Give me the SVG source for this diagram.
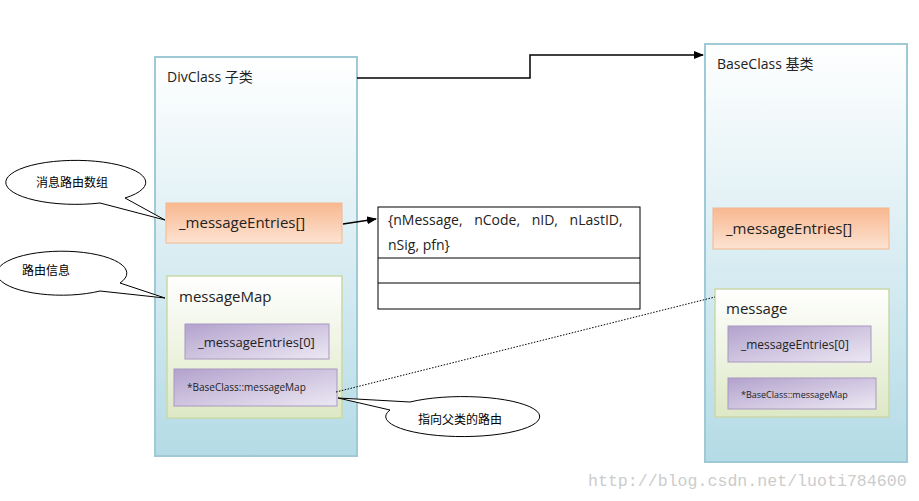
<svg xmlns="http://www.w3.org/2000/svg" width="919" height="501" viewBox="0 0 919 501">
<style>
.t{font-family:"Open Sans","Liberation Sans","Noto Sans CJK SC",sans-serif;fill:#222}
.c{font-family:"Noto Sans CJK SC",sans-serif;font-size:12px;fill:#000}
.cls{fill:url(#gb);stroke:#9fcad5;stroke-width:2}
.or{fill:url(#go);stroke:#f2b88e}
.gr{fill:url(#gg);stroke:#c9d9a8;stroke-width:1.5}
.pu{fill:url(#gp);stroke:#a898c0}
.ell{fill:#fff;stroke:#000;stroke-width:1}
</style>
<defs>
<linearGradient id="gb" x1="0" y1="0" x2="0" y2="1"><stop offset="0" stop-color="#fff"/><stop offset="1" stop-color="#b4dbe6"/></linearGradient>
<linearGradient id="go" x1="0" y1="0" x2="0" y2="1"><stop offset="0" stop-color="#f8b890"/><stop offset="1" stop-color="#fde3d2"/></linearGradient>
<linearGradient id="gg" x1="0" y1="0" x2="0" y2="1"><stop offset="0" stop-color="#fff"/><stop offset="1" stop-color="#dde8c5"/></linearGradient>
<linearGradient id="gp" x1="0" y1="0" x2="1" y2="1"><stop offset="0" stop-color="#b3a2cd"/><stop offset="1" stop-color="#ece8f3"/></linearGradient>
<marker id="ar" markerWidth="10" markerHeight="8" refX="9" refY="4" orient="auto" markerUnits="userSpaceOnUse"><path d="M0,0L10,4L0,8z" fill="#000"/></marker>
</defs>
<g id="divclass">
<rect class="cls" x="155" y="57" width="202" height="399"/>
<text class="t" x="167" y="82" font-size="14">DivClass 子类</text>
</g>
<g id="baseclass">
<rect class="cls" x="705" y="44" width="202" height="418"/>
<text class="t" x="717" y="69" font-size="14">BaseClass 基类</text>
</g>
<g id="div-entries"><rect class="or" x="166" y="203" width="176" height="40"/><text class="t" x="179" y="228" font-size="15">_messageEntries[]</text></g>
<g id="base-entries"><rect class="or" x="713" y="208" width="176" height="41"/><text class="t" x="726" y="234" font-size="15">_messageEntries[]</text></g>
<g id="div-map"><rect class="gr" x="167" y="276" width="175" height="142"/><text class="t" x="179" y="302" font-size="15">messageMap</text>
<rect class="pu" x="185" y="324" width="144" height="35"/><text class="t" x="198" y="347" font-size="13">_messageEntries[0]</text>
<rect class="pu" x="174" y="369" width="163" height="37"/><text class="t" x="187" y="391" font-size="10">*BaseClass::messageMap</text></g>
<g id="base-map"><rect class="gr" x="715" y="289" width="174" height="128"/><text class="t" x="726" y="314" font-size="15">message</text>
<rect class="pu" x="728" y="326" width="143" height="36"/><text class="t" x="741" y="349" font-size="12">_messageEntries[0]</text>
<rect class="pu" x="728" y="378" width="148" height="31"/><text class="t" x="741" y="398" font-size="9">*BaseClass::messageMap</text></g>
<g id="table">
<rect x="378" y="207" width="262" height="102" fill="#fff" stroke="#000"/>
<line x1="378" y1="258" x2="640" y2="258" stroke="#000"/><line x1="378" y1="283" x2="640" y2="283" stroke="#000"/>
<text class="t" x="388" y="225" font-size="14" word-spacing="8">{nMessage, nCode, nID, nLastID,</text>
<text class="t" x="388" y="250" font-size="14">nSig, pfn}</text>
</g>
<g id="callouts">
<path class="ell" d="M125,198 L165,220 L100,203 A70,22 0 1 1 125,198 Z"/>
<path class="ell" d="M120,283 L165,298 L100,291 A65,22 0 1 1 120,283 Z"/>
<path class="ell" d="M390,410 L338,398 L410,402 A77,20 0 1 1 390,410 Z"/>
<text class="c" x="36" y="187">消息路由数组</text>
<text class="c" x="22" y="275">路由信息</text>
<text class="c" x="418" y="424">指向父类的路由</text>
</g>
<g id="connectors" fill="none" stroke="#000">
<path d="M357,78 H530 V55 H703" marker-end="url(#ar)" stroke-width="1.5"/>
<path d="M343,224 L376,219" marker-end="url(#ar)" stroke-width="1.5"/>
<path d="M336,392 L715,297" stroke-dasharray="1.5,1.5"/>
</g>
<text x="588" y="486" font-family="Liberation Mono,monospace" font-size="16.6" fill="#ccc">http://blog.csdn.net/luoti784600</text>
</svg>
